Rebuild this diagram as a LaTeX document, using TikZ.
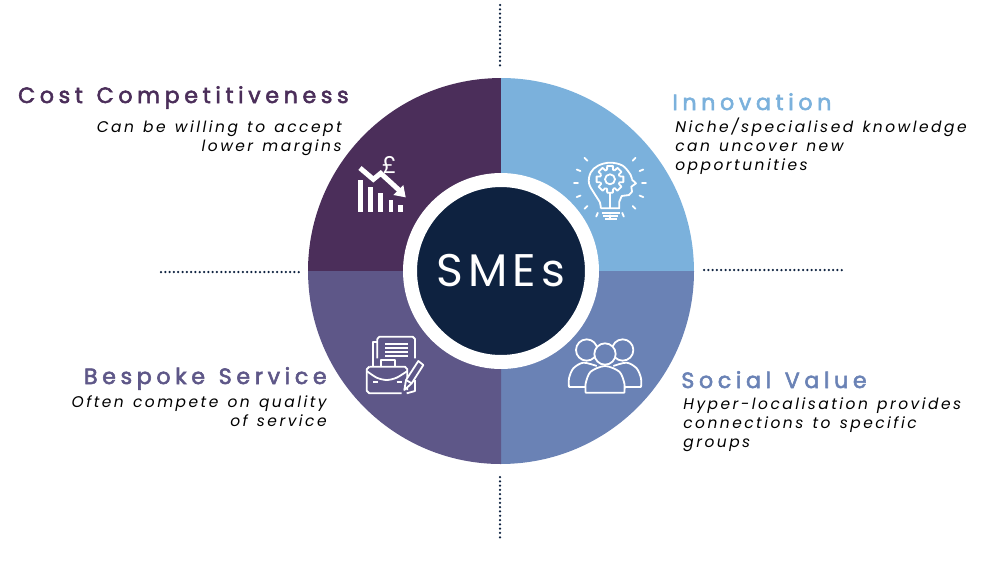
\documentclass[tikz,border=0pt]{standalone}
\usepackage{fontspec}
\usepackage{xcolor}
\usetikzlibrary{positioning}
\setmainfont{Poppins}
\newfontfamily\headfont[LetterSpace=21,WordSpace=1.3,FakeBold=2.5]{Poppins}
\newfontfamily\notefont[LetterSpace=16,WordSpace=1.3]{Poppins}
\newfontfamily\hubfont[LetterSpace=11]{Poppins}
\definecolor{costc}{HTML}{4B2E5A}
\definecolor{innoc}{HTML}{7BB1DC}
\definecolor{socialc}{HTML}{6A82B5}
\definecolor{bespokec}{HTML}{5E5788}
\definecolor{hubc}{HTML}{0E2240}

\begin{document}
\begin{tikzpicture}[
  x=0.02cm, y=-0.02cm,
  node distance=0.1cm and 0cm,
  head/.style={inner sep=0, font=\headfont\fontsize{12.6}{15}\selectfont},
  note/.style={inner sep=0, text=black, font=\notefont\itshape\fontsize{8.8}{10.8}\selectfont},
  dots/.style={hubc, line width=0.05cm, line cap=round, dash pattern=on 0pt off 2.45pt},
  icon/.style={white, line width=0.036cm, line join=round},
  bar/.style={fill=white, draw=none}
]
\useasboundingbox (0,0) rectangle (1000,562);

\coordinate (topa) at (500,5);
\coordinate (topb) at (500,69);
\coordinate (bota) at (500,477);
\coordinate (botb) at (500,538);
\coordinate (lefta) at (161,272);
\coordinate (leftb) at (299,272);
\coordinate (righta) at (704,270);
\coordinate (rightb) at (843,270);
\draw[dots] (topa) -- (topb);
\draw[dots] (bota) -- (botb);
\draw[dots] (lefta) -- (leftb);
\draw[dots] (righta) -- (rightb);

\fill[costc] (501,271) -- (308,271) arc[start angle=180, end angle=90, radius=3.86cm] -- cycle;
\fill[innoc] (501,271) -- (501,78) arc[start angle=90, end angle=0, radius=3.86cm] -- cycle;
\fill[socialc] (501,271) -- (694,271) arc[start angle=0, end angle=-90, radius=3.86cm] -- cycle;
\fill[bespokec] (501,271) -- (501,464) arc[start angle=-90, end angle=-180, radius=3.86cm] -- cycle;

\node[circle, fill=hubc, draw=white, line width=0.28cm, minimum size=3.64cm, inner sep=0,
  text=white, font=\hubfont\fontsize{26}{30}\selectfont] (smes) at (501,271) {SMEs};

\node[head, text=costc, anchor=base east] (cost) at (349,103) {Cost Competitiveness};
\node[note, align=right, below left=0.22cm and 0.14cm of cost.south east] (costnote) {Can be willing to accept\\lower margins};
\node[head, text=innoc, anchor=base west] (inno) at (672,110) {Innovation};
\node[note, align=left, below right=0.14cm and 0.06cm of inno.south west] (innonote) {Niche/specialised knowledge\\can uncover new\\opportunities};
\node[head, text=bespokec, anchor=base east] (bespoke) at (327,384) {Bespoke Service};
\node[note, align=right, below left=0.1cm and 0cm of bespoke.south east] (bespokenote) {Often compete on quality\\of service};
\node[head, text=socialc, anchor=base west] (social) at (681,388) {Social Value};
\node[note, align=left, below right=0.18cm and 0.04cm of social.south west] (socialnote) {Hyper-localisation provides\\connections to specific\\groups};

\begin{scope}[shift={(340,140)}, scale=1/3]
  \fill[bar] (55,120) rectangle (70,215);
  \fill[bar] (85,140) rectangle (100,215);
  \fill[bar] (115,158) rectangle (130,215);
  \fill[bar] (146,180) rectangle (160,215);
  \fill[bar] (175,195) rectangle (190,215);
  \draw[white, line width=0.1cm] (60,84) -- (100,118) -- (122,100) -- (155,130) -- (180,153);
  \fill[white] (197,172) -- (160,165) -- (190,135) -- cycle;
  \node[inner sep=0, text=white, font=\fontsize{13.5}{14}\selectfont] (pound) at (148,75) {£};
\end{scope}

\begin{scope}[shift={(610,183.3)}, scale=1/3]
  \foreach \a in {-45,-22.5,...,225}
    \draw[icon, line cap=round] (\a:96) -- (\a:108);
\end{scope}
\begin{scope}[shift={(560,140)}, scale=1/3]
  \draw[icon] plot[smooth, tension=0.6] coordinates {(122,205) (120,188) (104,162) (87,130) (92,98) (114,77) (150,68) (188,77) (212,105) (215,118)};
  \draw[icon] (215,118) -- (228,130) -- (214,140) -- (216,155) -- (207,165) -- (185,168) -- (178,185) -- (178,205) -- (122,205);
  \draw[icon] (150,160) -- (150,205);
  \draw[icon] (125,218) -- (180,218);
  \draw[icon] (130,228) -- (175,228);
  \draw[icon] (135,238) -- (170,238);
\end{scope}
\begin{scope}[shift={(610,179.3)}, scale=1/3]
  \draw[icon] (0,0) circle[radius=0.3cm];
  \foreach \a in {0,45,...,315}
    \draw[icon] (\a-17:30) -- (\a-12:41) -- (\a+12:41) -- (\a+17:30) -- (\a+45-17:30);
\end{scope}

\begin{scope}[shift={(350,325)}, scale=1/3]
  \draw[icon] (82,100) -- (82,42) -- (88,35) -- (188,35) -- (195,42) -- (195,100);
  \draw[icon] (82,50) -- (68,50) -- (68,125);
  \draw[icon] (195,165) -- (195,198) -- (170,205);
  \foreach \y in {58,70,82,94}
    \draw[icon] (105,\y) -- (175,\y);
  \draw[icon] (92,125) -- (92,105) -- (135,105) -- (135,125);
  \draw[icon] (58,125) -- (165,125) -- (172,133) -- (172,195);
  \draw[icon] (58,125) -- (50,133) -- (50,197) -- (58,205) -- (155,205);
  \draw[icon] plot[smooth] coordinates {(50,138) (80,158) (110,165) (140,158) (172,138)};
  \draw[icon] (70,170) -- (83,170);
  \draw[icon] (140,170) -- (155,170);
  \draw[icon, fill=bespokec] (163,195) -- (168,165) -- (205,108) -- (220,120) -- (185,175) -- cycle;
  \draw[icon] (168,165) -- (185,175);
\end{scope}

\begin{scope}[shift={(555,330)}, scale=1/3]
  \draw[icon] (95,60) circle[radius=0.64cm];
  \draw[icon] (203,60) circle[radius=0.64cm];
  \draw[icon] plot[smooth] coordinates {(42,172) (42,145) (55,115) (85,98) (125,108)};
  \draw[icon] (42,172) -- (92,172);
  \draw[icon] plot[smooth] coordinates {(258,172) (258,145) (245,115) (215,98) (175,108)};
  \draw[icon] (258,172) -- (208,172);
  \draw[icon, fill=socialc] (150,72) circle[radius=0.64cm];
  \draw[icon, fill=socialc] plot[smooth] coordinates {(92,188) (92,160) (107,125) (150,108) (193,125) (208,160) (208,188)} -- cycle;
\end{scope}
\end{tikzpicture}
\end{document}
